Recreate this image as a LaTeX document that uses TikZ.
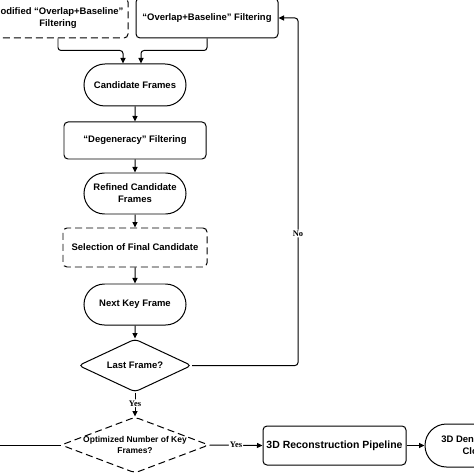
\documentclass[tikz,border=0pt]{standalone}
\usepackage{fontspec}
\setmainfont{Liberation Sans}
\newfontfamily\labfont{Liberation Serif}
\usetikzlibrary{arrows.meta,shapes.geometric,shapes.misc}
\begin{document}
\begin{tikzpicture}[x=1bp,y=-1bp,
  font=\bfseries\fontsize{9.5}{12}\selectfont,
  base/.style={draw, line width=1pt, align=center, inner sep=1pt},
  box/.style={base, rounded corners=4bp},
  dbox/.style={box, dash pattern=on 7bp off 4bp},
  term/.style={base, rounded rectangle, minimum width=104bp},
  dec/.style={base, diamond, rounded corners=4bp, inner sep=0pt},
  ddec/.style={dec, dash pattern=on 7bp off 4bp},
  conn/.style={line width=1pt, rounded corners=3bp},
  arr/.style={conn, -{Triangle[length=5.5bp,width=5bp]}},
  lab/.style={fill=white, inner sep=1pt, font=\labfont\bfseries\fontsize{8.5}{10}\selectfont}
]
\useasboundingbox (0,0) rectangle (474,474);
\clip (0,0) rectangle (474,474);

\node[dbox, minimum width=140bp, minimum height=40bp] (mod) at (58,18) {Modified “Overlap+Baseline”\\Filtering};
\node[box, minimum width=142bp, minimum height=40bp] (ovl) at (207,18) {“Overlap+Baseline” Filtering};
\node[term, minimum height=42bp] (cand) at (135,85) {Candidate Frames};
\node[box, minimum width=142bp, minimum height=37bp] (deg) at (135,140.5) {“Degeneracy” Filtering};
\node[term, minimum height=41bp] (ref) at (135,193.5) {Refined Candidate\\Frames};
\node[dbox, minimum width=144bp, minimum height=39bp] (sel) at (135,247.5) {Selection of Final Candidate};
\node[term, minimum height=41bp] (nxt) at (135,304.5) {Next Key Frame};
\node[dec, minimum width=113bp, minimum height=53bp] (last) at (135,365.5) {};
\node (lastt) at (last.center) {Last Frame?};
\node[ddec, minimum width=148bp, minimum height=56bp] (opt) at (135,445) {};
\node[font=\bfseries\fontsize{8.5}{11}\selectfont, align=center] (optt) at (opt.center) {Optimized Number of Key\\Frames?};
\node[box, minimum width=143bp, minimum height=39bp, font=\bfseries\fontsize{10.5}{12}\selectfont] (rec) at (334.5,445.5) {3D Reconstruction Pipeline};
\node[term, minimum height=43bp] (pc) at (476,445.5) {3D Dense Point\\Cloud};

\coordinate (loopR) at (298,365.5);
\coordinate (offL) at (-5,445);

\draw[arr] (mod.south) -- ++(0,12) -| ([xshift=-12bp]cand.north);
\draw[arr] (ovl.south) -- ++(0,12) -| ([xshift=6bp]cand.north);
\draw[arr] (cand) -- (deg);
\draw[arr] (deg) -- (ref);
\draw[arr] (ref) -- (sel);
\draw[arr] (sel) -- (nxt);
\draw[arr] (nxt) -- (last);
\draw[arr] (last.east) -- (loopR) |- node[lab, pos=0.19] {No} (ovl.east);
\draw[arr] (last.south) -- node[lab, pos=0.45] {Yes} (opt.north);
\draw[conn] (opt.west) -- (offL);
\draw[arr] (opt.east) -- node[lab, pos=0.5] {Yes} (rec.west);
\draw[arr] (rec.east) -- (pc.west);
\end{tikzpicture}
\end{document}
